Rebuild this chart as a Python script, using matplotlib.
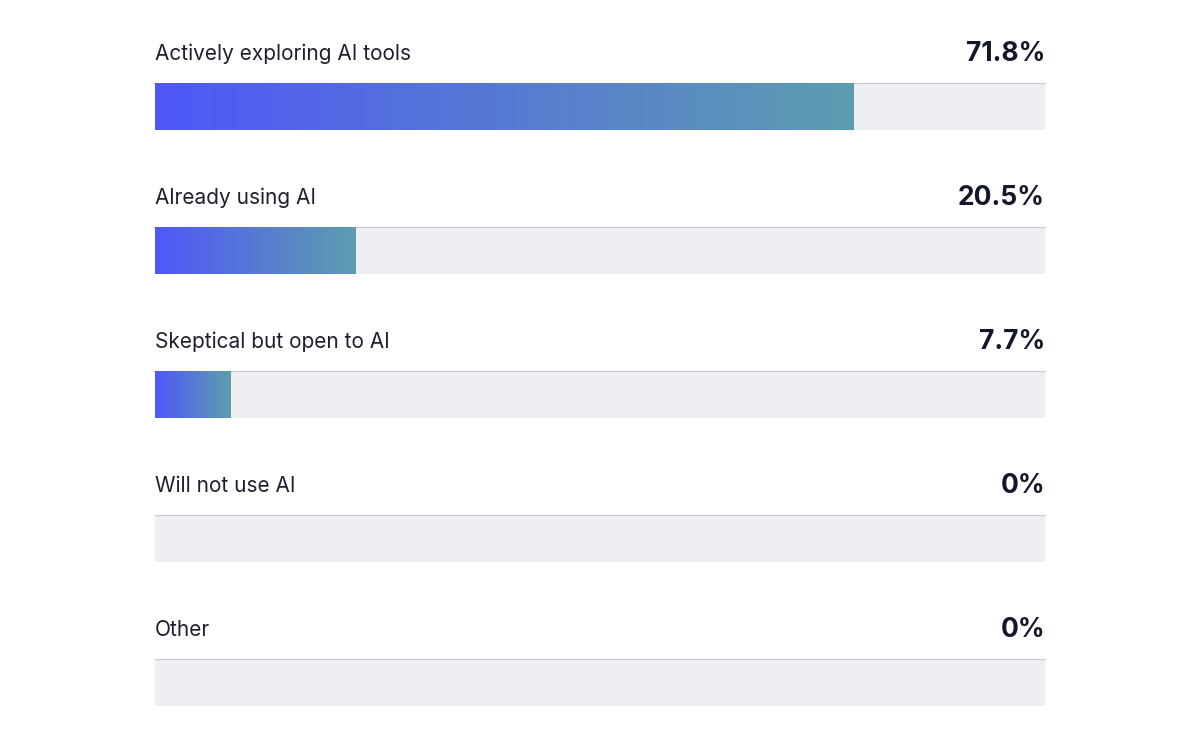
import numpy as np
import matplotlib.pyplot as plt
from matplotlib.colors import LinearSegmentedColormap

categories = ["Actively exploring AI tools", "Already using AI",
              "Skeptical but open to AI", "Will not use AI", "Other"]
values = [71.8, 20.5, 7.7, 0, 0]
value_labels = ["71.8%", "20.5%", "7.7%", "0%", "0%"]

plt.rcParams['font.family'] = ['Inter', 'DejaVu Sans']
W, H = 1200, 742
fig = plt.figure(figsize=(W / 100, H / 100), dpi=100)
ax = fig.add_axes([0, 0, 1, 1])
ax.set_xlim(0, W)
ax.set_ylim(H, 0)
ax.axis('off')

x0, x1 = 155, 1045
scale = 9.71  # px per percent
cmap = LinearSegmentedColormap.from_list('g', ['#4F57F8', '#5E9DAF'])
grad = np.linspace(0, 1, 256).reshape(1, -1)

for i, (cat, v, lab) in enumerate(zip(categories, values, value_labels)):
    top = 83 + 144 * i
    ax.add_patch(plt.Rectangle((x0, top), x1 - x0, 47, color='#EEEFF3', lw=0))
    ax.plot([x0, x1], [top, top], color='#C9CACF', lw=0.8)
    if v > 0:
        L = 1.0 + scale * v
        ax.imshow(grad, cmap=cmap, extent=(x0, x0 + L, top + 47, top),
                  aspect='auto', interpolation='bicubic', zorder=3)
    ax.text(x0, top - 29, cat, fontsize=15, color='#1E2030', va='center', ha='left')
    ax.text(x1, top - 29, lab, fontsize=19, fontweight='bold', color='#14162B',
            va='center', ha='right')

ax.set_xlim(0, W)
ax.set_ylim(H, 0)
fig.savefig('out.png', dpi=100, facecolor='white')
